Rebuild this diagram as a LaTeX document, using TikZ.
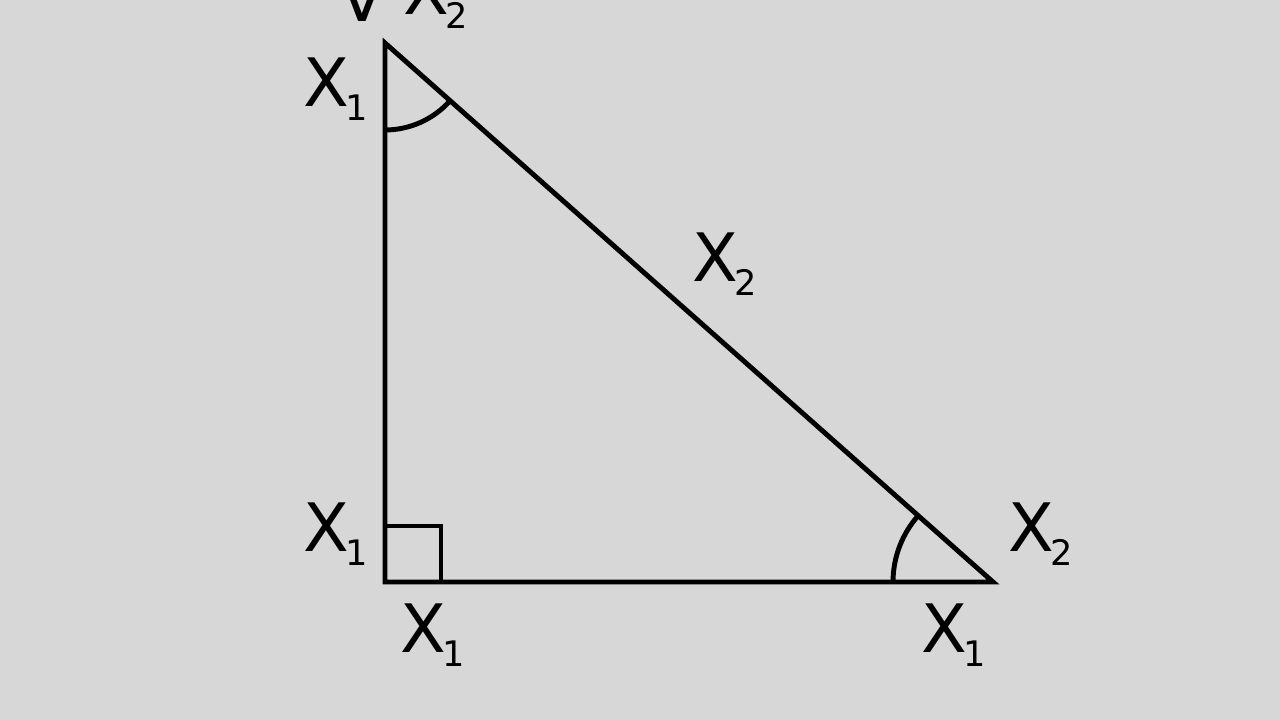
\documentclass[tikz,border=0pt]{standalone}
\usepackage{fontspec}
\setmainfont{DejaVu Sans}
\usetikzlibrary{positioning}
\definecolor{bggray}{RGB}{215,215,215}
\newcommand{\xsub}[2]{#1\hspace{-0.04cm}\raisebox{-0.14cm}{\fontsize{10}{12}\selectfont #2}}
\tikzset{lbl/.style={anchor=base west,inner sep=0pt,font=\fontsize{19}{22}\selectfont}}

\begin{document}
\begin{tikzpicture}
  \fill[bggray] (0,0) rectangle (12.8,7.2);
  \useasboundingbox (0,0) rectangle (12.8,7.2);

  \coordinate (top) at (3.85,6.77);
  \coordinate (rgt) at (3.85,1.38);
  \coordinate (ac) at (9.93,1.38);

  \draw[line width=1.4pt,line join=miter] (top) -- (rgt) -- (ac) -- cycle;
  \draw[line width=1.4pt] (3.85,1.94) -- (4.41,1.94) -- (4.41,1.38);
  \draw[line width=1.4pt] (3.85,5.90) arc (270:318.4:0.87);
  \draw[line width=1.4pt] (8.93,1.38) arc (180:138.4:1.00);

  \node[lbl] (v) at (3.39,6.98) {V};
  \node[lbl] (x2top) at (4.03,7.05) {\xsub{X}{2}};
  \node[lbl] (x1top) at (3.03,6.13) {\xsub{X}{1}};
  \node[lbl] (x2hyp) at (6.92,4.38) {\xsub{X}{2}};
  \node[lbl] (x1lft) at (3.03,1.68) {\xsub{X}{1}};
  \node[lbl] (x1bot) at (4.00,0.67) {\xsub{X}{1}};
  \node[lbl] (x2rgt) at (10.08,1.68) {\xsub{X}{2}};
  \node[lbl] (x1br) at (9.21,0.67) {\xsub{X}{1}};
\end{tikzpicture}
\end{document}
